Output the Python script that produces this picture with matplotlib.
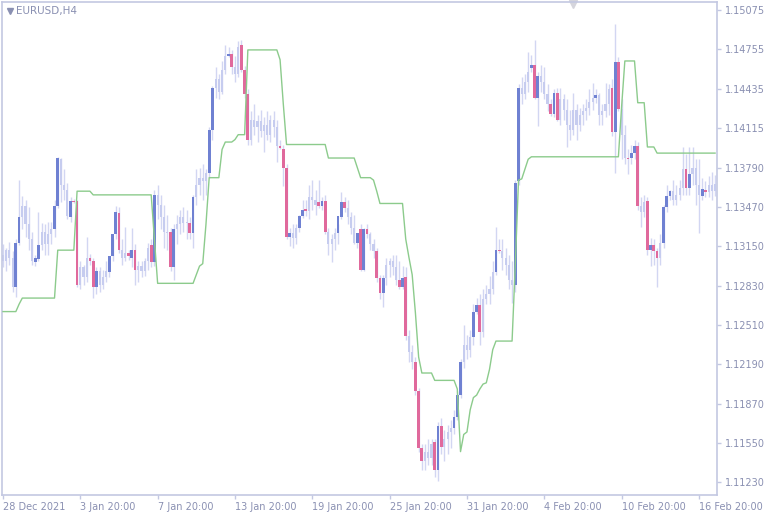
import matplotlib
matplotlib.use("Agg")
import matplotlib.pyplot as plt
import matplotlib.transforms as mtransforms
import numpy as np

symbol = "EURUSD,H4"

# H4 bars, first bar 28 Dec 2021 20:00
opens = [
    1.1308, 1.1303, 1.1312, 1.1306, 1.1282, 1.1318, 1.1339, 1.1348, 1.1333, 1.1321,
    1.1302, 1.1305, 1.1316, 1.1327, 1.1317, 1.1325, 1.1329, 1.1348, 1.1386, 1.1365,
    1.1361, 1.1339, 1.1352, 1.1352, 1.1284, 1.1298, 1.1290, 1.1306, 1.1303, 1.1282,
    1.1295, 1.1284, 1.1290, 1.1294, 1.1307, 1.1325, 1.1342, 1.1312, 1.1306, 1.1310,
    1.1306, 1.1312, 1.1296, 1.1299, 1.1295, 1.1303, 1.1316, 1.1302, 1.1357, 1.1349,
    1.1339, 1.1327, 1.1327, 1.1298, 1.1329, 1.1333, 1.1339, 1.1334, 1.1334, 1.1326,
    1.1355, 1.1365, 1.1371, 1.1368, 1.1375, 1.1410, 1.1444, 1.1451, 1.1441, 1.1459,
    1.1470, 1.1472, 1.1461, 1.1455, 1.1479, 1.1459, 1.1439, 1.1402, 1.1418, 1.1412,
    1.1417, 1.1409, 1.1414, 1.1406, 1.1418, 1.1412, 1.1397, 1.1394, 1.1379, 1.1323,
    1.1326, 1.1322, 1.1330, 1.1340, 1.1345, 1.1344, 1.1355, 1.1353, 1.1351, 1.1348,
    1.1352, 1.1327, 1.1317, 1.1321, 1.1326, 1.1339, 1.1351, 1.1346, 1.1339, 1.1330,
    1.1318, 1.1329, 1.1296, 1.1329, 1.1325, 1.1317, 1.1311, 1.1289, 1.1277, 1.1289,
    1.1300, 1.1303, 1.1298, 1.1288, 1.1282, 1.1290, 1.1242, 1.1229, 1.1221, 1.1197,
    1.1151, 1.1140, 1.1148, 1.1143, 1.1156, 1.1133, 1.1169, 1.1152, 1.1158, 1.1164,
    1.1167, 1.1176, 1.1194, 1.1221, 1.1235, 1.1231, 1.1241, 1.1262, 1.1267, 1.1245,
    1.1272, 1.1276, 1.1280, 1.1294, 1.1312, 1.1311, 1.1306, 1.1300, 1.1288, 1.1284,
    1.1368, 1.1444, 1.1439, 1.1449, 1.1460, 1.1463, 1.1436, 1.1454, 1.1449, 1.1439,
    1.1431, 1.1423, 1.1440, 1.1418, 1.1435, 1.1426, 1.1414, 1.1410, 1.1426, 1.1414,
    1.1422, 1.1425, 1.1428, 1.1433, 1.1436, 1.1438, 1.1422, 1.1425, 1.1431, 1.1444,
    1.1408, 1.1465, 1.1427, 1.1406, 1.1387, 1.1387, 1.1391, 1.1397, 1.1348, 1.1343,
    1.1352, 1.1312, 1.1316, 1.1311, 1.1306, 1.1318, 1.1347, 1.1356, 1.1360, 1.1353,
    1.1357, 1.1363, 1.1378, 1.1363, 1.1374, 1.1379, 1.1365, 1.1356, 1.1361, 1.1359,
    1.1365, 1.1360,
]
highs = [
    1.1317, 1.1314, 1.1319, 1.1311, 1.1321, 1.1369, 1.1356, 1.1353, 1.1347, 1.1327,
    1.1308, 1.1343, 1.1334, 1.1333, 1.1335, 1.1335, 1.1353, 1.1388, 1.1387, 1.1378,
    1.1367, 1.1355, 1.1354, 1.1353, 1.1303, 1.1300, 1.1323, 1.1309, 1.1306, 1.1298,
    1.1298, 1.1296, 1.1303, 1.1303, 1.1321, 1.1348, 1.1347, 1.1321, 1.1331, 1.1312,
    1.1330, 1.1317, 1.1303, 1.1303, 1.1306, 1.1318, 1.1321, 1.1361, 1.1365, 1.1357,
    1.1349, 1.1341, 1.1330, 1.1333, 1.1341, 1.1345, 1.1347, 1.1345, 1.1339, 1.1357,
    1.1378, 1.1379, 1.1382, 1.1378, 1.1412, 1.1446, 1.1461, 1.1455, 1.1466, 1.1479,
    1.1477, 1.1475, 1.1470, 1.1482, 1.1483, 1.1462, 1.1443, 1.1425, 1.1431, 1.1422,
    1.1426, 1.1420, 1.1425, 1.1422, 1.1425, 1.1418, 1.1402, 1.1398, 1.1382, 1.1330,
    1.1333, 1.1333, 1.1341, 1.1353, 1.1353, 1.1365, 1.1369, 1.1361, 1.1369, 1.1355,
    1.1357, 1.1330, 1.1325, 1.1330, 1.1333, 1.1359, 1.1355, 1.1353, 1.1343, 1.1341,
    1.1325, 1.1333, 1.1330, 1.1333, 1.1327, 1.1321, 1.1314, 1.1292, 1.1292, 1.1306,
    1.1306, 1.1308, 1.1308, 1.1303, 1.1299, 1.1298, 1.1247, 1.1235, 1.1225, 1.1200,
    1.1154, 1.1154, 1.1158, 1.1158, 1.1158, 1.1172, 1.1175, 1.1166, 1.1170, 1.1174,
    1.1182, 1.1197, 1.1223, 1.1251, 1.1243, 1.1247, 1.1268, 1.1273, 1.1276, 1.1280,
    1.1284, 1.1291, 1.1303, 1.1331, 1.1321, 1.1321, 1.1314, 1.1308, 1.1303, 1.1369,
    1.1447, 1.1453, 1.1455, 1.1473, 1.1471, 1.1483, 1.1457, 1.1463, 1.1461, 1.1447,
    1.1435, 1.1443, 1.1444, 1.1444, 1.1439, 1.1435, 1.1426, 1.1440, 1.1431, 1.1428,
    1.1431, 1.1435, 1.1443, 1.1448, 1.1443, 1.1440, 1.1431, 1.1448, 1.1447, 1.1451,
    1.1496, 1.1469, 1.1435, 1.1414, 1.1394, 1.1398, 1.1402, 1.1400, 1.1355, 1.1357,
    1.1355, 1.1322, 1.1321, 1.1314, 1.1325, 1.1349, 1.1365, 1.1361, 1.1369, 1.1365,
    1.1369, 1.1396, 1.1390, 1.1396, 1.1396, 1.1386, 1.1386, 1.1371, 1.1368, 1.1372,
    1.1376, 1.1373,
]
lows = [
    1.1298, 1.1295, 1.1300, 1.1278, 1.1274, 1.1316, 1.1329, 1.1323, 1.1312, 1.1300,
    1.1299, 1.1303, 1.1312, 1.1308, 1.1308, 1.1317, 1.1323, 1.1346, 1.1351, 1.1353,
    1.1337, 1.1335, 1.1350, 1.1282, 1.1280, 1.1284, 1.1286, 1.1300, 1.1273, 1.1276,
    1.1278, 1.1280, 1.1286, 1.1290, 1.1303, 1.1321, 1.1310, 1.1300, 1.1303, 1.1304,
    1.1298, 1.1284, 1.1286, 1.1290, 1.1291, 1.1296, 1.1298, 1.1299, 1.1337, 1.1329,
    1.1314, 1.1312, 1.1295, 1.1288, 1.1317, 1.1325, 1.1327, 1.1321, 1.1321, 1.1314,
    1.1349, 1.1357, 1.1353, 1.1357, 1.1371, 1.1402, 1.1436, 1.1435, 1.1439, 1.1455,
    1.1469, 1.1455, 1.1449, 1.1453, 1.1457, 1.1436, 1.1398, 1.1398, 1.1406, 1.1400,
    1.1404, 1.1392, 1.1402, 1.1400, 1.1404, 1.1384, 1.1394, 1.1364, 1.1321, 1.1315,
    1.1314, 1.1317, 1.1327, 1.1338, 1.1340, 1.1337, 1.1345, 1.1341, 1.1346, 1.1345,
    1.1325, 1.1308, 1.1302, 1.1312, 1.1317, 1.1337, 1.1343, 1.1333, 1.1325, 1.1317,
    1.1314, 1.1295, 1.1295, 1.1322, 1.1312, 1.1306, 1.1286, 1.1272, 1.1266, 1.1284,
    1.1290, 1.1292, 1.1284, 1.1280, 1.1280, 1.1239, 1.1221, 1.1215, 1.1194, 1.1148,
    1.1133, 1.1133, 1.1137, 1.1137, 1.1127, 1.1124, 1.1146, 1.1140, 1.1146, 1.1151,
    1.1162, 1.1174, 1.1192, 1.1216, 1.1223, 1.1225, 1.1235, 1.1260, 1.1235, 1.1241,
    1.1268, 1.1268, 1.1276, 1.1292, 1.1310, 1.1296, 1.1292, 1.1280, 1.1269, 1.1278,
    1.1365, 1.1431, 1.1435, 1.1441, 1.1457, 1.1435, 1.1413, 1.1441, 1.1435, 1.1425,
    1.1421, 1.1420, 1.1417, 1.1414, 1.1418, 1.1396, 1.1402, 1.1406, 1.1402, 1.1409,
    1.1414, 1.1418, 1.1422, 1.1426, 1.1432, 1.1414, 1.1414, 1.1420, 1.1422, 1.1405,
    1.1375, 1.1425, 1.1386, 1.1382, 1.1374, 1.1382, 1.1386, 1.1345, 1.1331, 1.1339,
    1.1308, 1.1299, 1.1300, 1.1282, 1.1300, 1.1314, 1.1343, 1.1353, 1.1349, 1.1349,
    1.1353, 1.1357, 1.1357, 1.1357, 1.1365, 1.1349, 1.1326, 1.1353, 1.1355, 1.1355,
    1.1353, 1.1356,
]
closes = [
    1.1303, 1.1312, 1.1306, 1.1282, 1.1318, 1.1339, 1.1348, 1.1333, 1.1321, 1.1303,
    1.1306, 1.1316, 1.1327, 1.1317, 1.1325, 1.1329, 1.1348, 1.1387, 1.1365, 1.1361,
    1.1340, 1.1352, 1.1351, 1.1284, 1.1298, 1.1290, 1.1306, 1.1303, 1.1282, 1.1295,
    1.1284, 1.1290, 1.1295, 1.1307, 1.1325, 1.1343, 1.1312, 1.1306, 1.1310, 1.1307,
    1.1312, 1.1296, 1.1299, 1.1295, 1.1303, 1.1314, 1.1302, 1.1357, 1.1349, 1.1339,
    1.1327, 1.1326, 1.1298, 1.1329, 1.1333, 1.1339, 1.1334, 1.1335, 1.1326, 1.1355,
    1.1365, 1.1371, 1.1368, 1.1375, 1.1410, 1.1444, 1.1451, 1.1441, 1.1459, 1.1470,
    1.1472, 1.1461, 1.1455, 1.1477, 1.1459, 1.1439, 1.1402, 1.1418, 1.1412, 1.1417,
    1.1409, 1.1414, 1.1406, 1.1418, 1.1412, 1.1397, 1.1395, 1.1379, 1.1323, 1.1326,
    1.1322, 1.1330, 1.1340, 1.1345, 1.1344, 1.1355, 1.1353, 1.1349, 1.1348, 1.1352,
    1.1327, 1.1317, 1.1321, 1.1326, 1.1340, 1.1351, 1.1346, 1.1339, 1.1330, 1.1318,
    1.1326, 1.1296, 1.1329, 1.1325, 1.1317, 1.1311, 1.1289, 1.1277, 1.1289, 1.1300,
    1.1303, 1.1298, 1.1288, 1.1282, 1.1289, 1.1242, 1.1229, 1.1221, 1.1197, 1.1151,
    1.1140, 1.1148, 1.1143, 1.1154, 1.1133, 1.1169, 1.1152, 1.1158, 1.1164, 1.1167,
    1.1176, 1.1194, 1.1221, 1.1235, 1.1231, 1.1241, 1.1262, 1.1267, 1.1245, 1.1272,
    1.1276, 1.1280, 1.1294, 1.1312, 1.1311, 1.1306, 1.1300, 1.1288, 1.1284, 1.1367,
    1.1444, 1.1439, 1.1449, 1.1457, 1.1463, 1.1436, 1.1454, 1.1449, 1.1439, 1.1431,
    1.1423, 1.1440, 1.1418, 1.1435, 1.1426, 1.1414, 1.1410, 1.1426, 1.1414, 1.1422,
    1.1425, 1.1428, 1.1433, 1.1436, 1.1438, 1.1422, 1.1425, 1.1431, 1.1443, 1.1408,
    1.1465, 1.1427, 1.1406, 1.1387, 1.1386, 1.1391, 1.1397, 1.1348, 1.1343, 1.1351,
    1.1312, 1.1316, 1.1311, 1.1306, 1.1318, 1.1347, 1.1356, 1.1360, 1.1353, 1.1357,
    1.1363, 1.1378, 1.1363, 1.1374, 1.1379, 1.1365, 1.1357, 1.1362, 1.1359, 1.1365,
    1.1360, 1.1366,
]

# bars the indicator paints (blue = up, pink = down)
marked = [
    4, 5, 10, 11, 16, 17, 21, 22, 23, 27, 28, 29, 33, 34, 35, 36, 39, 40, 41,
    46, 47, 52, 53, 58, 59, 64, 65, 70, 71, 74, 75, 76, 86, 87, 88, 89,
    92, 93, 94, 98, 99, 100, 104, 105, 106, 110, 111, 112, 113, 116, 117, 118,
    123, 124, 125, 128, 129, 130, 134, 135, 136, 140, 141, 142, 146, 147, 148,
    153, 154, 159, 160, 164, 165, 166, 170, 171, 172, 184, 189, 190, 191,
    194, 195, 196, 197, 200, 201, 202, 203, 205, 206, 207, 212, 213, 217, 218,
]

# trailing stop line
stop_line = [
    1.1262, 1.1262, 1.1262, 1.1262, 1.1262, 1.1268, 1.1273, 1.1273, 1.1273, 1.1273,
    1.1273, 1.1273, 1.1273, 1.1273, 1.1273, 1.1273, 1.1273, 1.1312, 1.1312, 1.1312,
    1.1312, 1.1312, 1.1312, 1.1360, 1.1360, 1.1360, 1.1360, 1.1360, 1.1357, 1.1357,
    1.1357, 1.1357, 1.1357, 1.1357, 1.1357, 1.1357, 1.1357, 1.1357, 1.1357, 1.1357,
    1.1357, 1.1357, 1.1357, 1.1357, 1.1357, 1.1357, 1.1357, 1.1321, 1.1285, 1.1285,
    1.1285, 1.1285, 1.1285, 1.1285, 1.1285, 1.1285, 1.1285, 1.1285, 1.1285, 1.1285,
    1.1292, 1.1299, 1.1301, 1.1333, 1.1371, 1.1371, 1.1371, 1.1371, 1.1394, 1.1400,
    1.1400, 1.1400, 1.1402, 1.1406, 1.1406, 1.1406, 1.1475, 1.1475, 1.1475, 1.1475,
    1.1475, 1.1475, 1.1475, 1.1475, 1.1475, 1.1475, 1.1467, 1.1431, 1.1398, 1.1398,
    1.1398, 1.1398, 1.1398, 1.1398, 1.1398, 1.1398, 1.1398, 1.1398, 1.1398, 1.1398,
    1.1398, 1.1387, 1.1387, 1.1387, 1.1387, 1.1387, 1.1387, 1.1387, 1.1387, 1.1387,
    1.1379, 1.1371, 1.1371, 1.1371, 1.1371, 1.1369, 1.1360, 1.1350, 1.1350, 1.1350,
    1.1350, 1.1350, 1.1350, 1.1350, 1.1350, 1.1321, 1.1306, 1.1292, 1.1261, 1.1225,
    1.1212, 1.1212, 1.1212, 1.1212, 1.1206, 1.1206, 1.1206, 1.1206, 1.1206, 1.1206,
    1.1206, 1.1199, 1.1148, 1.1162, 1.1164, 1.1182, 1.1192, 1.1194, 1.1199, 1.1203,
    1.1204, 1.1215, 1.1231, 1.1238, 1.1238, 1.1238, 1.1238, 1.1238, 1.1238, 1.1300,
    1.1369, 1.1370, 1.1378, 1.1386, 1.1388, 1.1388, 1.1388, 1.1388, 1.1388, 1.1388,
    1.1388, 1.1388, 1.1388, 1.1388, 1.1388, 1.1388, 1.1388, 1.1388, 1.1388, 1.1388,
    1.1388, 1.1388, 1.1388, 1.1388, 1.1388, 1.1388, 1.1388, 1.1388, 1.1388, 1.1388,
    1.1388, 1.1388, 1.1429, 1.1466, 1.1466, 1.1466, 1.1466, 1.1432, 1.1432, 1.1432,
    1.1396, 1.1396, 1.1396, 1.1391, 1.1391, 1.1391, 1.1391, 1.1391, 1.1391, 1.1391,
    1.1391, 1.1391, 1.1391, 1.1391, 1.1391, 1.1391, 1.1391, 1.1391, 1.1391, 1.1391,
    1.1391, 1.1391,
]

price_ticks = [1.15075, 1.14755, 1.14435, 1.14115, 1.13790, 1.13470, 1.13150,
               1.12830, 1.12510, 1.12190, 1.11870, 1.11550, 1.11230]
date_ticks = [0, 24, 48, 72, 96, 120, 144, 168, 192, 216]
date_labels = ["28 Dec 2021", "3 Jan 20:00", "7 Jan 20:00", "13 Jan 20:00",
               "19 Jan 20:00", "25 Jan 20:00", "31 Jan 20:00", "4 Feb 20:00",
               "10 Feb 20:00", "16 Feb 20:00"]

# colours
faint = "#c6ccef"
wick_col = "#d2d6f2"
up_col = "#6f81d2"
down_col = "#e0699c"
stop_col = "#8ccb8c"
frame_col = "#c3c8e2"
text_col = "#8a90b2"

o = np.array(opens)
h = np.array(highs)
l = np.array(lows)
c = np.array(closes)
x = np.arange(len(o))

fig = plt.figure(figsize=(7.68, 5.12), dpi=100)
ax = fig.add_axes([2 / 768, 17 / 512, 715 / 768, 493 / 512])

# all candles, faint
ax.vlines(x, l, h, color=wick_col, lw=1.0, zorder=1)
body_lo = np.minimum(o, c)
body_h = np.maximum(np.abs(c - o), 0.00008)
ax.bar(x, body_h, bottom=body_lo, width=0.65, color=faint, lw=0, zorder=2)

# painted candles
m = np.array(marked)
mcol = [up_col if c[i] >= o[i] else down_col for i in m]
ax.bar(m, np.maximum(np.abs(c[m] - o[m]), 0.00012), bottom=body_lo[m],
       width=0.85, color=mcol, lw=0, zorder=3)

ax.plot(x, stop_line, color=stop_col, lw=1.0, zorder=4)

ax.set_xlim(-0.3, 221.6)
ax.set_ylim(1.11127, 1.15140)

for s in ax.spines.values():
    s.set_color(frame_col)
    s.set_linewidth(1.2)

ax.yaxis.tick_right()
ax.set_yticks(price_ticks)
ax.set_yticklabels([f"{p:.5f}" for p in price_ticks])
ax.set_xticks(date_ticks)
ax.set_xticklabels(date_labels, ha="left")
ax.tick_params(axis="both", colors=frame_col, labelcolor=text_col,
               labelsize=7, length=3, width=1)
ax.tick_params(axis="x", pad=2)
ax.tick_params(axis="y", pad=3)

# symbol header
ax.plot([0.011], [0.982], marker="v", ms=4, color=text_col,
        transform=ax.transAxes, clip_on=False)
ax.text(0.02, 0.982, symbol, transform=ax.transAxes, color=text_col,
        fontsize=7.5, va="center", ha="left")

# chart shift marker at the top
trans = mtransforms.blended_transform_factory(ax.transData, ax.transAxes)
ax.plot([177], [0.995], marker="v", ms=6, color="#d5d5dc", transform=trans,
        clip_on=False)

fig.savefig("out.png", dpi=100, facecolor="white")
